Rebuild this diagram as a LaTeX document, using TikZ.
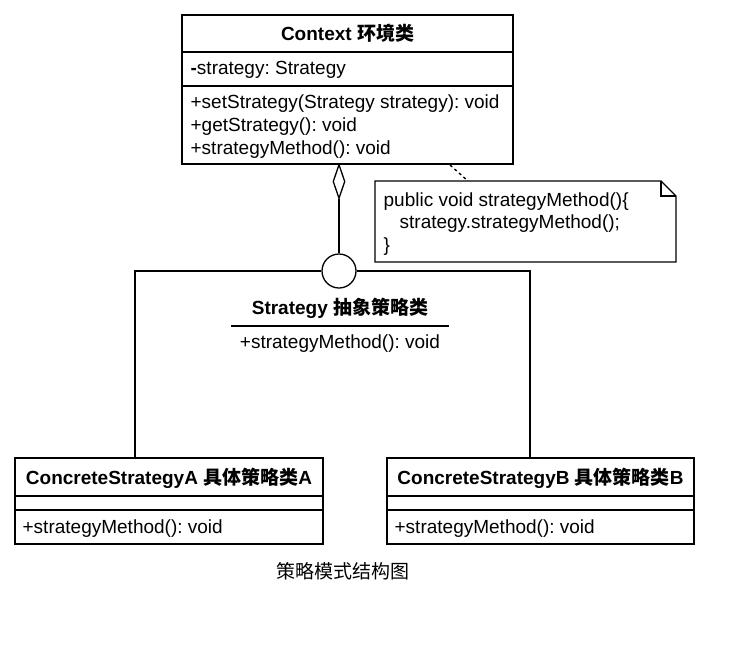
\documentclass[tikz,border=0pt]{standalone}
\usepackage{fontspec}
\setmainfont{Liberation Sans}
\newfontfamily\cjk{Noto Sans CJK SC}
\newcommand{\zh}[1]{{\cjk #1}}
\frenchspacing
\usetikzlibrary{shapes.geometric}
\begin{document}
\begin{tikzpicture}[x=1pt,y=-1pt,line width=1.3pt,
		every node/.style={font=\fontsize{19}{23}\selectfont, inner sep=0pt},
		box/.style={draw},
		txt/.style={anchor=base west},
		ttl/.style={anchor=base, font=\fontsize{19}{23}\selectfont\bfseries}]
		\useasboundingbox (0,0) rectangle (753,651);
		% Context
		\draw[box] (182,15) rectangle (513,164);
		\draw (182,52) -- (513,52);
		\draw (182,86) -- (513,86);
		\node[ttl] (ctxname) at (347.5,40) {Context \zh{环境类}};
		\node[txt] (ctxattr) at (190,74) {\textbf{-}strategy: Strategy};
		\node[txt] (ctxset) at (190,108) {+setStrategy(Strategy strategy): void};
		\node[txt] (ctxget) at (190,131) {+getStrategy(): void};
		\node[txt] (ctxmeth) at (190,154) {+strategyMethod(): void};
		% note
		\draw (375,181) -- (661,181) -- (676,196) -- (676,262) -- (375,262) -- cycle;
		\draw (661,181) -- (661,196) -- (676,196);
		\node[txt] (note1) at (383,206) {public void strategyMethod()\{};
		\node[txt] (note2) at (399,228) {strategy.strategyMethod();};
		\node[txt] (note3) at (383,251) {\}};
		\coordinate (ctxdot) at (450,165);
		\coordinate (notedot) at (468,181);
		\draw[dash pattern=on 3pt off 3pt] (ctxdot) -- (notedot);
		% aggregation and interface
		\node[diamond, draw, fill=white, minimum width=12pt, minimum height=34pt] (agg) at (339,181.5) {};
		\node[circle, draw, fill=white, minimum size=34pt] (lolli) at (339,271) {};
		\draw (agg.south) -- (lolli.north);
		\coordinate (ltop) at (135,271);
		\coordinate (lbot) at (135,458);
		\coordinate (rtop) at (530,271);
		\coordinate (rbot) at (530,458);
		\draw (lolli.west) -- (ltop) -- (lbot);
		\draw (lolli.east) -- (rtop) -- (rbot);
		\node[ttl] (stratname) at (340,314) {Strategy \zh{抽象策略类}};
		\draw (231,326) -- (449,326);
		\node[anchor=base] (stratmeth) at (340,348) {+strategyMethod(): void};
		% concrete strategies
		\draw[box] (15,458) rectangle (323,544);
		\draw (15,496) -- (323,496);
		\draw (15,510) -- (323,510);
		\node[ttl] (aname) at (169,484) {ConcreteStrategyA \zh{具体策略类}A};
		\node[txt] (ameth) at (22,533) {+strategyMethod(): void};
		\draw[box] (387,458) rectangle (694,544);
		\draw (387,496) -- (694,496);
		\draw (387,510) -- (694,510);
		\node[ttl] (bname) at (540.5,484) {ConcreteStrategyB \zh{具体策略类}B};
		\node[txt] (bmeth) at (394,533) {+strategyMethod(): void};
		% caption
		\node[anchor=base] (caption) at (343,578) {\zh{策略模式结构图}};
	\end{tikzpicture}
\end{document}
